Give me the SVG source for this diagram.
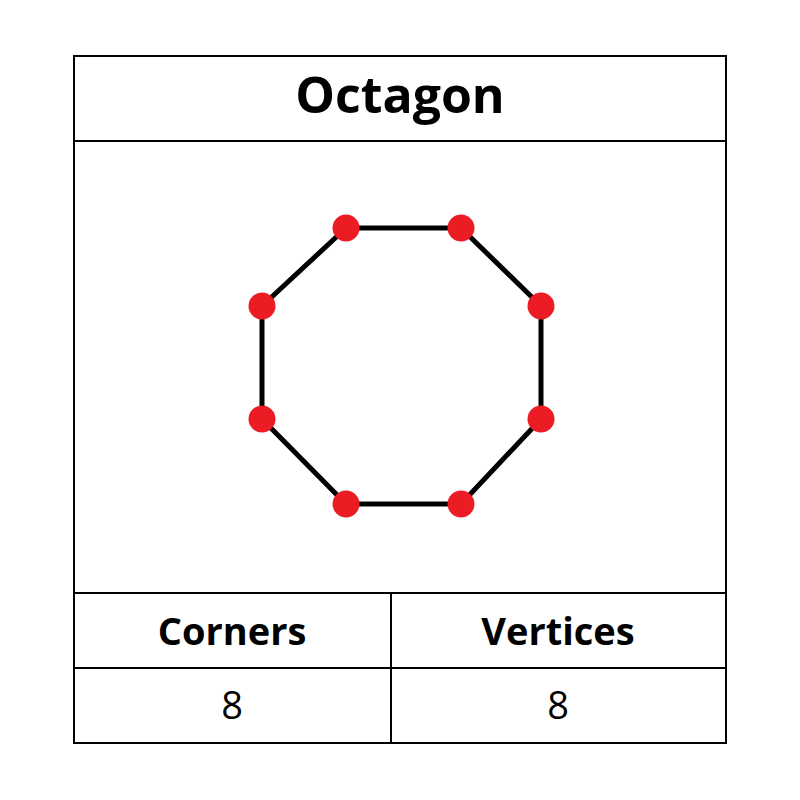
<svg xmlns="http://www.w3.org/2000/svg" width="800" height="800" viewBox="0 0 800 800">
<style>
.frame{fill:none;stroke:#000;stroke-width:2}
.edge{stroke:#000;stroke-width:5;stroke-linecap:round}
.dot{fill:#ec1c24}
.h{font-family:"Open Sans","Noto Sans",sans-serif;font-weight:bold;text-anchor:middle;fill:#000}
.v{font-family:"Open Sans","Noto Sans",sans-serif;text-anchor:middle;fill:#000}
</style>
<rect width="800" height="800" fill="#fff"/>
<g id="table">
<rect class="frame" x="74" y="56" width="652" height="687"/>
<line class="frame" x1="74" y1="141" x2="726" y2="141"/>
<line class="frame" x1="74" y1="593" x2="726" y2="593"/>
<line class="frame" x1="74" y1="668" x2="726" y2="668"/>
<line class="frame" x1="391" y1="593" x2="391" y2="743"/>
</g>
<g id="title"><text class="h" x="400" y="113" font-size="50">Octagon</text></g>
<g id="connectors">
<line class="edge" x1="346" y1="228" x2="461" y2="228"/>
<line class="edge" x1="461" y1="228" x2="541" y2="306"/>
<line class="edge" x1="541" y1="306" x2="541" y2="419"/>
<line class="edge" x1="541" y1="419" x2="461" y2="504"/>
<line class="edge" x1="461" y1="504" x2="346" y2="504"/>
<line class="edge" x1="346" y1="504" x2="262" y2="419"/>
<line class="edge" x1="262" y1="419" x2="262" y2="306"/>
<line class="edge" x1="262" y1="306" x2="346" y2="228"/>
</g>
<g id="v1"><circle class="dot" cx="346" cy="228" r="13.5"/></g>
<g id="v2"><circle class="dot" cx="461" cy="228" r="13.5"/></g>
<g id="v3"><circle class="dot" cx="541" cy="306" r="13.5"/></g>
<g id="v4"><circle class="dot" cx="541" cy="419" r="13.5"/></g>
<g id="v5"><circle class="dot" cx="461" cy="504" r="13.5"/></g>
<g id="v6"><circle class="dot" cx="346" cy="504" r="13.5"/></g>
<g id="v7"><circle class="dot" cx="262" cy="419" r="13.5"/></g>
<g id="v8"><circle class="dot" cx="262" cy="306" r="13.5"/></g>
<g id="corners"><text class="h" x="232" y="645" font-size="38">Corners</text><text class="v" x="232" y="719" font-size="38">8</text></g>
<g id="vertices"><text class="h" x="558" y="645" font-size="38">Vertices</text><text class="v" x="558" y="719" font-size="38">8</text></g>
</svg>
